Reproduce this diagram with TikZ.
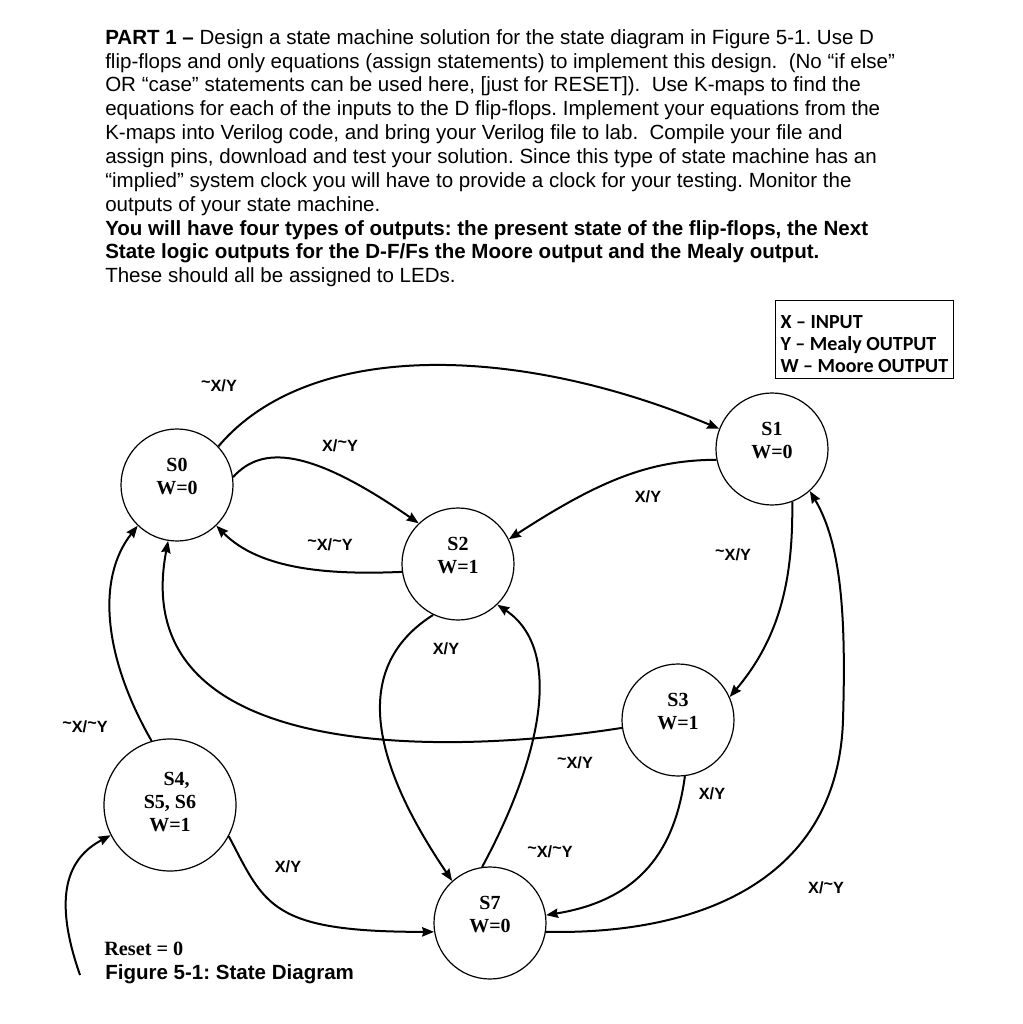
\documentclass[tikz,border=0pt]{standalone}
\usepackage{fontspec}
\setmainfont{Liberation Serif}
\newfontfamily\arialfont{Liberation Sans}
\newfontfamily\calibrifont{Carlito}
\usepackage{graphicx}
\usepackage{tikz}
\usetikzlibrary{arrows.meta,positioning}
\frenchspacing
\newcommand\tld{\raisebox{0.5ex}{\textasciitilde}}

\begin{document}
\begin{tikzpicture}[x=0.75pt, y=-0.75pt,
  state/.style={circle, draw, line width=0.9pt, minimum size=84pt, inner sep=0pt,
                align=center, text depth=13.5pt, font=\bfseries\fontsize{15}{17.3}\selectfont},
  lbl/.style={inner sep=0pt, font=\arialfont\bfseries\fontsize{12.2}{14}\selectfont},
  legend/.style={draw, line width=0.8pt, align=left, anchor=north west, inner xsep=3.75pt,
                 minimum height=58.5pt, text height=50pt, text depth=0pt,
                 font=\calibrifont\bfseries\fontsize{15}{16.5}\selectfont},
  arr/.style={-{Stealth[length=9pt,width=7pt,inset=1pt]}, line width=1.5pt}]

  \useasboundingbox (0,0) rectangle (1022,1024);

  % assignment text
  \node[anchor=north west, inner sep=0pt, align=left,
        font=\arialfont\fontsize{15.4}{17.9}\selectfont] (task) at (105,29)
    {\textbf{PART 1 –} Design a state machine solution for the state diagram in Figure 5-1. Use D\\
     flip-flops and only equations (assign statements) to implement this design.\ \ (No “if else”\\
     OR “case” statements can be used here, [just for RESET]).\ \ Use K-maps to find the\\
     equations for each of the inputs to the D flip-flops. Implement your equations from the\\
     K-maps into Verilog code, and bring your Verilog file to lab.\ \ Compile your file and\\
     assign pins, download and test your solution. Since this type of state machine has an\\
     “implied” system clock you will have to provide a clock for your testing. Monitor the\\
     outputs of your state machine.\\
     \textbf{You will have four types of outputs: the present state of the flip-flops, the Next}\\
     \textbf{State logic outputs for the D-F/Fs the Moore output and the Mealy output.}\\
     These should all be assigned to LEDs.};

  \node[legend] (legend) at (775,300) {X – INPUT\\Y – Mealy OUTPUT\\W – Moore OUTPUT};

  % states
  \node[state] (s0) at (177,485) {S0\\W=0};
  \node[state] (s1) at (772,449) {S1\\W=0};
  \node[state] (s2) at (458,564) {S2\\W=1};
  \node[state] (s3) at (678,720) {S3\\W=1};
  \node[state] (s7) at (490,923) {S7\\W=0};
  \node[state, minimum size=99pt, text depth=4.5pt] (s4) at (170,805) {\hspace*{10pt}S4,\\S5, S6\\W=1};
  \coordinate (rst) at (80,975);

  % transitions
  \draw[arr] (s0.43) .. controls (310,338) and (520,345) .. (s1.159);
  \draw[arr] (s0.8) .. controls (262,445) and (310,448) .. (s2.134);
  \draw[arr] (s2.188) .. controls (330,575) and (260,570) .. (s0.314);
  \draw[arr] (s1.191) .. controls (650,460) and (600,480) .. (s2.26);
  \draw[arr] (s1.291) .. controls (793,575) and (782,635) .. (s3.24);
  \draw[arr] (s3.188) .. controls (450,755) and (125,765) .. (s0.261);
  \draw[arr] (s4.106) .. controls (105,660) and (95,580) .. (s0.226);
  \draw[arr] (s4.-28) .. controls (265,905) and (270,932) .. (s7.189);
  \draw[arr] (s2.244) .. controls (370,655) and (350,730) .. (s7.132);
  \draw[arr] (s7.98) .. controls (540,760) and (565,650) .. (s2.314);
  \draw[arr] (s3.277) .. controls (675,850) and (640,900) .. (s7.8);
  \draw[arr] (s7.-9) .. controls (700,935) and (838,880) .. (843,720)
                     .. controls (846,620) and (842,545) .. (s1.312);
  \draw[arr] (rst) .. controls (52,895) and (68,858) .. (s4.207);

  % transition labels
  \node[lbl] (l01) at (219,386) {\tld X/Y};
  \node[lbl] (l02) at (340,446) {X/\tld Y};
  \node[lbl] (l20) at (330,545) {\tld X/\tld Y};
  \node[lbl] (l12) at (648,497) {X/Y};
  \node[lbl] (l13) at (733,555) {\tld X/Y};
  \node[lbl] (l30) at (575,763) {\tld X/Y};
  \node[lbl] (l40) at (85,727) {\tld X/\tld Y};
  \node[lbl] (l47) at (288,867) {X/Y};
  \node[lbl] (l27) at (446,649) {X/Y};
  \node[lbl] (l72) at (550,852) {\tld X/\tld Y};
  \node[lbl] (l37) at (712,794) {X/Y};
  \node[lbl] (l71) at (826,888) {X/\tld Y};

  \node[anchor=base west, inner sep=0pt, font=\bfseries\fontsize{15.2}{17}\selectfont] (reset) at (104,955) {Reset = 0};
  \node[anchor=base west, inner sep=0pt, font=\arialfont\bfseries\fontsize{15.4}{17}\selectfont] (caption) at (105,979) {Figure 5-1: State Diagram};
\end{tikzpicture}
\end{document}
